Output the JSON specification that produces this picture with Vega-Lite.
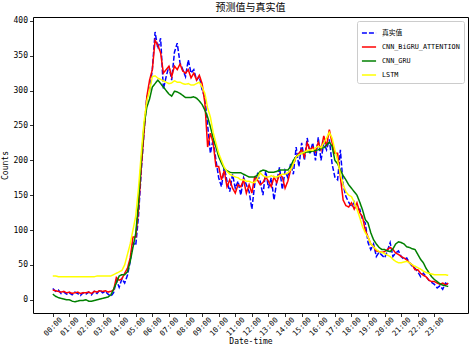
{
  "$schema": "https://vega.github.io/schema/vega-lite/v6.json",
  "width": 435,
  "height": 296,
  "autosize": {"type": "none"},
  "padding": {"left": 33, "top": 17, "right": 6, "bottom": 41},
  "background": "white",
  "title": {"text": "预测值与真实值", "fontSize": 10, "fontWeight": "normal", "font": "Noto Sans CJK SC", "offset": 4, "color": "#000"},
  "data": {"values": [
    {"t":0,"真实值":16,"CNN_BiGRU_ATTENTION":14,"CNN_GRU":8,"LSTM":34},
    {"t":10,"真实值":12,"CNN_BiGRU_ATTENTION":13,"CNN_GRU":5,"LSTM":34},
    {"t":20,"真实值":14,"CNN_BiGRU_ATTENTION":12,"CNN_GRU":3,"LSTM":33},
    {"t":30,"真实值":9,"CNN_BiGRU_ATTENTION":11,"CNN_GRU":2,"LSTM":33},
    {"t":40,"真实值":11,"CNN_BiGRU_ATTENTION":12,"CNN_GRU":1,"LSTM":33},
    {"t":50,"真实值":8,"CNN_BiGRU_ATTENTION":10,"CNN_GRU":0,"LSTM":33},
    {"t":60,"真实值":10,"CNN_BiGRU_ATTENTION":11,"CNN_GRU":0,"LSTM":33},
    {"t":70,"真实值":7,"CNN_BiGRU_ATTENTION":9,"CNN_GRU":-2,"LSTM":33},
    {"t":80,"真实值":11,"CNN_BiGRU_ATTENTION":10,"CNN_GRU":-3,"LSTM":33},
    {"t":90,"真实值":9,"CNN_BiGRU_ATTENTION":11,"CNN_GRU":-2,"LSTM":33},
    {"t":100,"真实值":6,"CNN_BiGRU_ATTENTION":9,"CNN_GRU":-1,"LSTM":33},
    {"t":110,"真实值":10,"CNN_BiGRU_ATTENTION":10,"CNN_GRU":-1,"LSTM":33},
    {"t":120,"真实值":8,"CNN_BiGRU_ATTENTION":10,"CNN_GRU":0,"LSTM":33},
    {"t":130,"真实值":11,"CNN_BiGRU_ATTENTION":11,"CNN_GRU":-2,"LSTM":33},
    {"t":140,"真实值":7,"CNN_BiGRU_ATTENTION":9,"CNN_GRU":-2,"LSTM":33},
    {"t":150,"真实值":12,"CNN_BiGRU_ATTENTION":12,"CNN_GRU":-1,"LSTM":33},
    {"t":160,"真实值":9,"CNN_BiGRU_ATTENTION":11,"CNN_GRU":0,"LSTM":34},
    {"t":170,"真实值":14,"CNN_BiGRU_ATTENTION":13,"CNN_GRU":1,"LSTM":34},
    {"t":180,"真实值":10,"CNN_BiGRU_ATTENTION":12,"CNN_GRU":2,"LSTM":34},
    {"t":190,"真实值":12,"CNN_BiGRU_ATTENTION":13,"CNN_GRU":3,"LSTM":34},
    {"t":200,"真实值":8,"CNN_BiGRU_ATTENTION":11,"CNN_GRU":4,"LSTM":34},
    {"t":210,"真实值":5,"CNN_BiGRU_ATTENTION":12,"CNN_GRU":7,"LSTM":34},
    {"t":220,"真实值":10,"CNN_BiGRU_ATTENTION":14,"CNN_GRU":15,"LSTM":36},
    {"t":230,"真实值":28,"CNN_BiGRU_ATTENTION":32,"CNN_GRU":24,"LSTM":38},
    {"t":240,"真实值":18,"CNN_BiGRU_ATTENTION":28,"CNN_GRU":34,"LSTM":40},
    {"t":250,"真实值":30,"CNN_BiGRU_ATTENTION":30,"CNN_GRU":36,"LSTM":42},
    {"t":260,"真实值":24,"CNN_BiGRU_ATTENTION":38,"CNN_GRU":36,"LSTM":50},
    {"t":270,"真实值":35,"CNN_BiGRU_ATTENTION":45,"CNN_GRU":40,"LSTM":65},
    {"t":280,"真实值":55,"CNN_BiGRU_ATTENTION":60,"CNN_GRU":55,"LSTM":80},
    {"t":290,"真实值":82,"CNN_BiGRU_ATTENTION":90,"CNN_GRU":75,"LSTM":100},
    {"t":300,"真实值":78,"CNN_BiGRU_ATTENTION":90,"CNN_GRU":95,"LSTM":120},
    {"t":310,"真实值":120,"CNN_BiGRU_ATTENTION":130,"CNN_GRU":140,"LSTM":160},
    {"t":320,"真实值":185,"CNN_BiGRU_ATTENTION":190,"CNN_GRU":200,"LSTM":210},
    {"t":330,"真实值":240,"CNN_BiGRU_ATTENTION":240,"CNN_GRU":250,"LSTM":255},
    {"t":340,"真实值":290,"CNN_BiGRU_ATTENTION":291,"CNN_GRU":276,"LSTM":285},
    {"t":350,"真实值":300,"CNN_BiGRU_ATTENTION":315,"CNN_GRU":288,"LSTM":300},
    {"t":360,"真实值":330,"CNN_BiGRU_ATTENTION":330,"CNN_GRU":305,"LSTM":320},
    {"t":370,"真实值":384,"CNN_BiGRU_ATTENTION":372,"CNN_GRU":310,"LSTM":321},
    {"t":380,"真实值":360,"CNN_BiGRU_ATTENTION":365,"CNN_GRU":315,"LSTM":318},
    {"t":390,"真实值":375,"CNN_BiGRU_ATTENTION":354,"CNN_GRU":310,"LSTM":316},
    {"t":400,"真实值":302,"CNN_BiGRU_ATTENTION":325,"CNN_GRU":305,"LSTM":314},
    {"t":410,"真实值":320,"CNN_BiGRU_ATTENTION":330,"CNN_GRU":300,"LSTM":312},
    {"t":420,"真实值":335,"CNN_BiGRU_ATTENTION":335,"CNN_GRU":295,"LSTM":310},
    {"t":430,"真实值":315,"CNN_BiGRU_ATTENTION":320,"CNN_GRU":292,"LSTM":311},
    {"t":440,"真实值":355,"CNN_BiGRU_ATTENTION":335,"CNN_GRU":299,"LSTM":314},
    {"t":450,"真实值":368,"CNN_BiGRU_ATTENTION":330,"CNN_GRU":298,"LSTM":312},
    {"t":460,"真实值":340,"CNN_BiGRU_ATTENTION":338,"CNN_GRU":296,"LSTM":312},
    {"t":470,"真实值":330,"CNN_BiGRU_ATTENTION":328,"CNN_GRU":293,"LSTM":310},
    {"t":480,"真实值":320,"CNN_BiGRU_ATTENTION":325,"CNN_GRU":290,"LSTM":309},
    {"t":490,"真实值":344,"CNN_BiGRU_ATTENTION":330,"CNN_GRU":290,"LSTM":310},
    {"t":500,"真实值":325,"CNN_BiGRU_ATTENTION":318,"CNN_GRU":290,"LSTM":308},
    {"t":510,"真实值":330,"CNN_BiGRU_ATTENTION":325,"CNN_GRU":291,"LSTM":308},
    {"t":520,"真实值":315,"CNN_BiGRU_ATTENTION":315,"CNN_GRU":289,"LSTM":310},
    {"t":530,"真实值":320,"CNN_BiGRU_ATTENTION":322,"CNN_GRU":285,"LSTM":312},
    {"t":540,"真实值":301,"CNN_BiGRU_ATTENTION":310,"CNN_GRU":280,"LSTM":305},
    {"t":550,"真实值":290,"CNN_BiGRU_ATTENTION":282,"CNN_GRU":272,"LSTM":296},
    {"t":560,"真实值":250,"CNN_BiGRU_ATTENTION":219,"CNN_GRU":262,"LSTM":275},
    {"t":570,"真实值":210,"CNN_BiGRU_ATTENTION":239,"CNN_GRU":248,"LSTM":262},
    {"t":580,"真实值":230,"CNN_BiGRU_ATTENTION":225,"CNN_GRU":232,"LSTM":240},
    {"t":590,"真实值":200,"CNN_BiGRU_ATTENTION":191,"CNN_GRU":219,"LSTM":225},
    {"t":600,"真实值":175,"CNN_BiGRU_ATTENTION":191,"CNN_GRU":205,"LSTM":210},
    {"t":610,"真实值":162,"CNN_BiGRU_ATTENTION":172,"CNN_GRU":196,"LSTM":200},
    {"t":620,"真实值":190,"CNN_BiGRU_ATTENTION":185,"CNN_GRU":188,"LSTM":190},
    {"t":630,"真实值":170,"CNN_BiGRU_ATTENTION":162,"CNN_GRU":185,"LSTM":184},
    {"t":640,"真实值":155,"CNN_BiGRU_ATTENTION":172,"CNN_GRU":183,"LSTM":180},
    {"t":650,"真实值":180,"CNN_BiGRU_ATTENTION":160,"CNN_GRU":182,"LSTM":178},
    {"t":660,"真实值":160,"CNN_BiGRU_ATTENTION":153,"CNN_GRU":182,"LSTM":176},
    {"t":670,"真实值":170,"CNN_BiGRU_ATTENTION":165,"CNN_GRU":182,"LSTM":175},
    {"t":680,"真实值":150,"CNN_BiGRU_ATTENTION":162,"CNN_GRU":182,"LSTM":172},
    {"t":690,"真实值":175,"CNN_BiGRU_ATTENTION":172,"CNN_GRU":180,"LSTM":172},
    {"t":700,"真实值":165,"CNN_BiGRU_ATTENTION":153,"CNN_GRU":178,"LSTM":170},
    {"t":710,"真实值":155,"CNN_BiGRU_ATTENTION":165,"CNN_GRU":176,"LSTM":170},
    {"t":720,"真实值":130,"CNN_BiGRU_ATTENTION":153,"CNN_GRU":176,"LSTM":168},
    {"t":730,"真实值":165,"CNN_BiGRU_ATTENTION":176,"CNN_GRU":176,"LSTM":168},
    {"t":740,"真实值":180,"CNN_BiGRU_ATTENTION":172,"CNN_GRU":179,"LSTM":174},
    {"t":750,"真实值":170,"CNN_BiGRU_ATTENTION":165,"CNN_GRU":184,"LSTM":182},
    {"t":760,"真实值":150,"CNN_BiGRU_ATTENTION":168,"CNN_GRU":186,"LSTM":178},
    {"t":770,"真实值":185,"CNN_BiGRU_ATTENTION":176,"CNN_GRU":185,"LSTM":176},
    {"t":780,"真实值":160,"CNN_BiGRU_ATTENTION":170,"CNN_GRU":183,"LSTM":176},
    {"t":790,"真实值":175,"CNN_BiGRU_ATTENTION":162,"CNN_GRU":183,"LSTM":178},
    {"t":800,"真实值":143,"CNN_BiGRU_ATTENTION":176,"CNN_GRU":183,"LSTM":176},
    {"t":810,"真实值":170,"CNN_BiGRU_ATTENTION":168,"CNN_GRU":184,"LSTM":176},
    {"t":820,"真实值":190,"CNN_BiGRU_ATTENTION":180,"CNN_GRU":186,"LSTM":178},
    {"t":830,"真实值":158,"CNN_BiGRU_ATTENTION":176,"CNN_GRU":186,"LSTM":180},
    {"t":840,"真实值":185,"CNN_BiGRU_ATTENTION":160,"CNN_GRU":186,"LSTM":180},
    {"t":850,"真实值":175,"CNN_BiGRU_ATTENTION":170,"CNN_GRU":186,"LSTM":182},
    {"t":860,"真实值":195,"CNN_BiGRU_ATTENTION":186,"CNN_GRU":191,"LSTM":186},
    {"t":870,"真实值":180,"CNN_BiGRU_ATTENTION":195,"CNN_GRU":200,"LSTM":195},
    {"t":880,"真实值":219,"CNN_BiGRU_ATTENTION":205,"CNN_GRU":205,"LSTM":205},
    {"t":890,"真实值":191,"CNN_BiGRU_ATTENTION":210,"CNN_GRU":208,"LSTM":208},
    {"t":900,"真实值":225,"CNN_BiGRU_ATTENTION":215,"CNN_GRU":210,"LSTM":210},
    {"t":910,"真实值":200,"CNN_BiGRU_ATTENTION":205,"CNN_GRU":211,"LSTM":212},
    {"t":920,"真实值":232,"CNN_BiGRU_ATTENTION":225,"CNN_GRU":212,"LSTM":214},
    {"t":930,"真实值":210,"CNN_BiGRU_ATTENTION":215,"CNN_GRU":212,"LSTM":215},
    {"t":940,"真实值":225,"CNN_BiGRU_ATTENTION":219,"CNN_GRU":213,"LSTM":214},
    {"t":950,"真实值":200,"CNN_BiGRU_ATTENTION":212,"CNN_GRU":214,"LSTM":218},
    {"t":960,"真实值":233,"CNN_BiGRU_ATTENTION":226,"CNN_GRU":215,"LSTM":220},
    {"t":970,"真实值":200,"CNN_BiGRU_ATTENTION":215,"CNN_GRU":217,"LSTM":218},
    {"t":980,"真实值":225,"CNN_BiGRU_ATTENTION":235,"CNN_GRU":218,"LSTM":225},
    {"t":990,"真实值":215,"CNN_BiGRU_ATTENTION":220,"CNN_GRU":222,"LSTM":232},
    {"t":1000,"真实值":230,"CNN_BiGRU_ATTENTION":244,"CNN_GRU":226,"LSTM":240},
    {"t":1010,"真实值":195,"CNN_BiGRU_ATTENTION":225,"CNN_GRU":220,"LSTM":232},
    {"t":1020,"真实值":176,"CNN_BiGRU_ATTENTION":210,"CNN_GRU":200,"LSTM":215},
    {"t":1030,"真实值":172,"CNN_BiGRU_ATTENTION":210,"CNN_GRU":195,"LSTM":200},
    {"t":1040,"真实值":215,"CNN_BiGRU_ATTENTION":176,"CNN_GRU":186,"LSTM":180},
    {"t":1050,"真实值":165,"CNN_BiGRU_ATTENTION":143,"CNN_GRU":178,"LSTM":165},
    {"t":1060,"真实值":148,"CNN_BiGRU_ATTENTION":135,"CNN_GRU":172,"LSTM":155},
    {"t":1070,"真实值":140,"CNN_BiGRU_ATTENTION":133,"CNN_GRU":165,"LSTM":150},
    {"t":1080,"真实值":133,"CNN_BiGRU_ATTENTION":139,"CNN_GRU":160,"LSTM":148},
    {"t":1090,"真实值":140,"CNN_BiGRU_ATTENTION":130,"CNN_GRU":155,"LSTM":140},
    {"t":1100,"真实值":129,"CNN_BiGRU_ATTENTION":139,"CNN_GRU":150,"LSTM":130},
    {"t":1110,"真实值":130,"CNN_BiGRU_ATTENTION":125,"CNN_GRU":140,"LSTM":118},
    {"t":1120,"真实值":115,"CNN_BiGRU_ATTENTION":119,"CNN_GRU":129,"LSTM":105},
    {"t":1130,"真实值":110,"CNN_BiGRU_ATTENTION":100,"CNN_GRU":115,"LSTM":96},
    {"t":1140,"真实值":82,"CNN_BiGRU_ATTENTION":90,"CNN_GRU":110,"LSTM":90},
    {"t":1150,"真实值":72,"CNN_BiGRU_ATTENTION":80,"CNN_GRU":96,"LSTM":80},
    {"t":1160,"真实值":80,"CNN_BiGRU_ATTENTION":76,"CNN_GRU":86,"LSTM":76},
    {"t":1170,"真实值":62,"CNN_BiGRU_ATTENTION":70,"CNN_GRU":80,"LSTM":72},
    {"t":1180,"真实值":68,"CNN_BiGRU_ATTENTION":69,"CNN_GRU":75,"LSTM":69},
    {"t":1190,"真实值":64,"CNN_BiGRU_ATTENTION":68,"CNN_GRU":72,"LSTM":68},
    {"t":1200,"真实值":60,"CNN_BiGRU_ATTENTION":69,"CNN_GRU":72,"LSTM":66},
    {"t":1210,"真实值":70,"CNN_BiGRU_ATTENTION":72,"CNN_GRU":70,"LSTM":64},
    {"t":1220,"真实值":82,"CNN_BiGRU_ATTENTION":75,"CNN_GRU":69,"LSTM":62},
    {"t":1230,"真实值":62,"CNN_BiGRU_ATTENTION":72,"CNN_GRU":73,"LSTM":58},
    {"t":1240,"真实值":67,"CNN_BiGRU_ATTENTION":67,"CNN_GRU":80,"LSTM":55},
    {"t":1250,"真实值":70,"CNN_BiGRU_ATTENTION":65,"CNN_GRU":83,"LSTM":53},
    {"t":1260,"真实值":62,"CNN_BiGRU_ATTENTION":62,"CNN_GRU":82,"LSTM":53},
    {"t":1270,"真实值":58,"CNN_BiGRU_ATTENTION":60,"CNN_GRU":80,"LSTM":54},
    {"t":1280,"真实值":60,"CNN_BiGRU_ATTENTION":57,"CNN_GRU":76,"LSTM":55},
    {"t":1290,"真实值":53,"CNN_BiGRU_ATTENTION":53,"CNN_GRU":75,"LSTM":53},
    {"t":1300,"真实值":48,"CNN_BiGRU_ATTENTION":50,"CNN_GRU":73,"LSTM":50},
    {"t":1310,"真实值":45,"CNN_BiGRU_ATTENTION":43,"CNN_GRU":72,"LSTM":48},
    {"t":1320,"真实值":40,"CNN_BiGRU_ATTENTION":43,"CNN_GRU":65,"LSTM":46},
    {"t":1330,"真实值":33,"CNN_BiGRU_ATTENTION":38,"CNN_GRU":58,"LSTM":44},
    {"t":1340,"真实值":38,"CNN_BiGRU_ATTENTION":35,"CNN_GRU":53,"LSTM":41},
    {"t":1350,"真实值":33,"CNN_BiGRU_ATTENTION":33,"CNN_GRU":45,"LSTM":39},
    {"t":1360,"真实值":28,"CNN_BiGRU_ATTENTION":28,"CNN_GRU":39,"LSTM":38},
    {"t":1370,"真实值":25,"CNN_BiGRU_ATTENTION":26,"CNN_GRU":33,"LSTM":37},
    {"t":1380,"真实值":22,"CNN_BiGRU_ATTENTION":26,"CNN_GRU":29,"LSTM":36},
    {"t":1390,"真实值":17,"CNN_BiGRU_ATTENTION":24,"CNN_GRU":26,"LSTM":36},
    {"t":1400,"真实值":20,"CNN_BiGRU_ATTENTION":22,"CNN_GRU":23,"LSTM":36},
    {"t":1410,"真实值":15,"CNN_BiGRU_ATTENTION":24,"CNN_GRU":21,"LSTM":36},
    {"t":1420,"真实值":24,"CNN_BiGRU_ATTENTION":21,"CNN_GRU":20,"LSTM":36},
    {"t":1430,"真实值":22,"CNN_BiGRU_ATTENTION":24,"CNN_GRU":19,"LSTM":35}
  ]},
  "transform": [
    {"fold": ["真实值", "CNN_BiGRU_ATTENTION", "CNN_GRU", "LSTM"], "as": ["series", "value"]}
  ],
  "mark": {"type": "line", "strokeWidth": 1.5, "clip": true},
  "encoding": {
    "x": {
      "field": "t", "type": "quantitative",
      "scale": {"domain": [-71.5, 1501.5], "nice": false, "zero": false},
      "axis": {
        "values": [0,60,120,180,240,300,360,420,480,540,600,660,720,780,840,900,960,1020,1080,1140,1200,1260,1320,1380],
        "labelExpr": "(datum.value < 600 ? '0' : '') + floor(datum.value / 60) + ':00'",
        "labelAngle": -45, "labelAlign": "center", "labelBaseline": "middle", "labelPadding": 10,
        "labelOverlap": false, "labelFlush": false, "labelBound": false, "labelFontSize": 7.5,
        "title": "Date-time", "titlePadding": 1
      }
    },
    "y": {
      "field": "value", "type": "quantitative",
      "scale": {"domain": [-19, 405.5], "nice": false, "zero": false},
      "axis": {"values": [0,50,100,150,200,250,300,350,400], "title": "Counts", "titlePadding": 4}
    },
    "color": {
      "field": "series", "type": "nominal",
      "scale": {"domain": ["真实值", "CNN_BiGRU_ATTENTION", "CNN_GRU", "LSTM"], "range": ["#0000ff", "#ff0000", "#008000", "#ffff00"]},
      "legend": {"title": null}
    },
    "strokeDash": {
      "field": "series", "type": "nominal",
      "scale": {"domain": ["真实值", "CNN_BiGRU_ATTENTION", "CNN_GRU", "LSTM"], "range": [[5, 2], [1, 0], [1, 0], [1, 0]]},
      "legend": {"title": null}
    }
  },
  "config": {
    "font": "Noto Sans CJK SC",
    "view": {"stroke": "#000", "strokeWidth": 1},
    "axis": {
      "grid": false, "domain": false,
      "tickColor": "#000", "tickSize": 3.5, "tickWidth": 0.8,
      "labelColor": "#000", "labelFontSize": 8, "labelFont": "DejaVu Sans Mono, Noto Sans CJK SC",
      "titleColor": "#000", "titleFontSize": 8, "titleFontWeight": "normal", "titleFont": "DejaVu Sans Mono, Noto Sans CJK SC"
    },
    "legend": {
      "orient": "top-right", "offset": 4, "padding": 4,
      "fillColor": "white", "strokeColor": "#cccccc", "cornerRadius": 2,
      "symbolType": "stroke", "symbolSize": 200, "symbolStrokeWidth": 1.5,
      "labelFontSize": 6.8, "labelFont": "DejaVu Sans Mono, Noto Sans CJK SC", "labelColor": "#000",
      "rowPadding": 2, "labelOffset": 5
    }
  }
}
